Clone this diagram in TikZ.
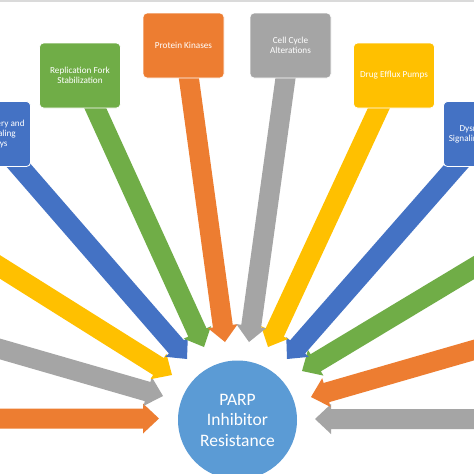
\documentclass[tikz,border=0pt]{standalone}
\usepackage{fontspec}
\setmainfont{Carlito}
\usetikzlibrary{calc}
\definecolor{cOrange}{HTML}{ED7D31}
\definecolor{cGray}{HTML}{A5A5A5}
\definecolor{cYellow}{HTML}{FFC000}
\definecolor{cBlue}{HTML}{4472C4}
\definecolor{cGreen}{HTML}{70AD47}
\definecolor{cCircle}{HTML}{5B9BD5}
\definecolor{cTop}{HTML}{DADADA}
% block arrow: colour, start coordinate, tip coordinate
\newcommand\blockarrow[3]{%
  \coordinate (ab) at ($(#3)!16pt!(#2)$);
  \fill[#1] (#3) -- ($(ab)!15pt!90:(#2)$) -- ($(ab)!10pt!90:(#2)$)
    -- ($(#2)!10pt!-90:(#3)$) -- ($(#2)!10pt!90:(#3)$)
    -- ($(ab)!10pt!-90:(#2)$) -- ($(ab)!15pt!-90:(#2)$) -- cycle;}
\tikzset{
  box/.style={draw=white, line width=0.8pt, rounded corners=4pt,
    minimum width=81pt, minimum height=65pt, inner sep=0pt,
    text=white, align=center, font=\fontsize{9.2}{10}\selectfont},
  hub/.style={circle, fill=cCircle, minimum size=119pt, inner sep=0pt,
    text=white, align=center, font=\fontsize{17.5}{20.5}\selectfont}
}
\begin{document}
\begin{tikzpicture}[x=1pt,y=-1pt]
\useasboundingbox (0,0) rectangle (474,474);
\clip (0,0) rectangle (474,474);
\fill[white] (0,0) rectangle (474,474);
\fill[cTop] (0,0) rectangle (474,2);

% arrow start and tip coordinates
\coordinate (s1) at (186.4,60);   \coordinate (t1) at (225,342);
\coordinate (s2) at (288,60);     \coordinate (t2) at (249,342);
\coordinate (s3) at (87,90);      \coordinate (t3) at (204,347);
\coordinate (s4) at (387.3,90);   \coordinate (t4) at (268,347);
\coordinate (s5) at (5.2,150);    \coordinate (t5) at (187,359);
\coordinate (s6) at (470.4,150);  \coordinate (t6) at (287,359);
\coordinate (s7) at (-20,254.4);  \coordinate (t7) at (172,375);
\coordinate (s8) at (494,255.5);  \coordinate (t8) at (302,371);
\coordinate (s9) at (-20,343.2);  \coordinate (t9) at (163,396);
\coordinate (s10) at (494,344.2); \coordinate (t10) at (311,397);
\coordinate (s11) at (-20,418.5); \coordinate (t11) at (159,418.5);
\coordinate (s12) at (494,419);   \coordinate (t12) at (315,419);

\blockarrow{cOrange}{s11}{t11}
\blockarrow{cGray}{s12}{t12}
\blockarrow{cGray}{s9}{t9}
\blockarrow{cOrange}{s10}{t10}
\blockarrow{cYellow}{s7}{t7}
\blockarrow{cGreen}{s8}{t8}
\blockarrow{cBlue}{s5}{t5}
\blockarrow{cBlue}{s6}{t6}
\blockarrow{cGreen}{s3}{t3}
\blockarrow{cYellow}{s4}{t4}
\blockarrow{cOrange}{s1}{t1}
\blockarrow{cGray}{s2}{t2}

% boxes
\node[box, fill=cOrange] (pk) at (183.5,45.5) {Protein Kinases};
\node[box, fill=cGray] (cc) at (290.5,45.5) {Cell Cycle\\Alterations};
\node[box, fill=cGreen] (rf) at (80,75.5) {Replication Fork\\Stabilization};
\node[box, fill=cYellow] (de) at (394,75.5) {Drug Efflux Pumps};
\node[box, fill=cBlue] (lb) at (-10,134) {DNA Recovery and\\DDR Signaling\\Pathways};
\node[box, fill=cBlue] (rb) at (484,134) {Dysregulated\\Signaling Pathways};

% hub
\node[hub] (c) at (237.5,420) {PARP\\Inhibitor\\Resistance};
\end{tikzpicture}
\end{document}
